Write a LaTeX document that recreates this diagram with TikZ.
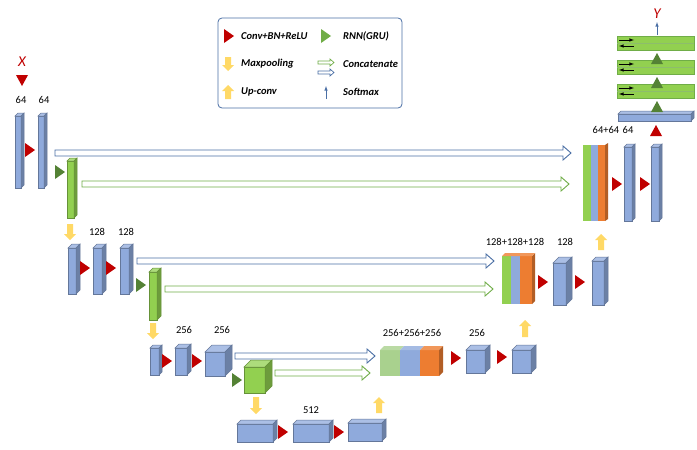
\documentclass[tikz,border=0pt]{standalone}
\usepackage{fontspec}
\setmainfont{Carlito}
\begin{document}
\begin{tikzpicture}[x=1pt,y=-1pt,font=\fontsize{10.5}{11}\selectfont,
 lbl/.style={inner sep=0pt,anchor=center}]
\definecolor{bfill}{HTML}{8FAADC}\definecolor{bdraw}{HTML}{4A6FA5}
\definecolor{gfill}{HTML}{92D050}\definecolor{gdraw}{HTML}{70AD47}
\definecolor{ofill}{HTML}{ED7D31}\definecolor{redt}{HTML}{C00000}
\definecolor{dgreen}{HTML}{548235}\definecolor{yel}{HTML}{FFD966}
\definecolor{lgreen}{HTML}{A9D18E}
\useasboundingbox (0,0) rectangle (697,450);
\fill[white] (0,0) rectangle (697,450);
\newcommand\cube[6]{%
 \fill[#6,draw=#6!70!black,line width=0.5pt] (#1,#2) rectangle ++(#3,#4);
 \fill[#6!75!white,draw=#6!70!black,line width=0.5pt] (#1,#2)--++(#5,-#5)--++(#3,0)--++(-#5,#5)--cycle;
 \fill[#6!75!black,draw=#6!70!black,line width=0.5pt] (#1+#3,#2)--++(#5,-#5)--++(0,#4)--++(-#5,#5)--cycle;}
\newcommand\rtri[3]{\fill[#3] (#1-5,#2-7)--(#1+5,#2)--(#1-5,#2+7)--cycle;}
\newcommand\utri[3]{\fill[#3] (#1-6,#2+5)--(#1,#2-6)--(#1+6,#2+5)--cycle;}
\newcommand\dtri[3]{\fill[#3] (#1-6,#2-5)--(#1,#2+6)--(#1+6,#2-5)--cycle;}
\newcommand\harrow[4]{\draw[#4,line width=0.9pt,fill=white] (#1,#3-3)--(#2-8,#3-3)--(#2-8,#3-7)--(#2,#3)--(#2-8,#3+7)--(#2-8,#3+3)--(#1,#3+3)--cycle;}
\newcommand\yup[3]{\fill[yel] (#1-3,#3)--(#1-3,#2+6)--(#1-6,#2+6)--(#1,#2)--(#1+6,#2+6)--(#1+3,#2+6)--(#1+3,#3)--cycle;}
\newcommand\ydown[3]{\fill[yel] (#1-3,#2)--(#1-3,#3-6)--(#1-6,#3-6)--(#1,#3)--(#1+6,#3-6)--(#1+3,#3-6)--(#1+3,#2)--cycle;}
% legend
\draw[bdraw,rounded corners=4pt,line width=0.8pt] (218,18) rectangle (402,108);
\rtri{229}{36}{redt} \node[lbl,anchor=west] (l1) at (241,36) {\textbf{\textit{Conv+BN+ReLU}}};
\rtri{326}{36}{gdraw} \node[lbl,anchor=west] (l2) at (343,36) {\textbf{\textit{RNN(GRU)}}};
\ydown{228}{57}{71} \node[lbl,anchor=west] (l3) at (241,64) {\textbf{\textit{Maxpooling}}};
\draw[gdraw,line width=0.7pt,fill=white] (318,61)--(330,61)--(330,59)--(334,62.5)--(330,66)--(330,64)--(318,64)--cycle;
\draw[bdraw,line width=0.7pt,fill=white] (318,71)--(330,71)--(330,69)--(334,72.5)--(330,76)--(330,74)--(318,74)--cycle;
\node[lbl,anchor=west] (l4) at (343,64) {\textbf{\textit{Concatenate}}};
\yup{228}{85}{99} \node[lbl,anchor=west] (l5) at (241,92) {\textbf{\textit{Up-conv}}};
\draw[-latex,bdraw,line width=0.6pt] (326,99)--(326,86);
\node[lbl,anchor=west] (l6) at (343,92) {\textbf{\textit{Softmax}}};
% input
\node[lbl,text=redt,font=\fontsize{15}{15}\selectfont\itshape] (X) at (22,62) {X};
\dtri{22}{80}{redt}
\node[lbl] at (21,100) {64}; \node[lbl] at (44,100) {64};
\cube{15}{116}{6}{72}{3}{bfill}
\rtri{30}{150}{redt}
\cube{38}{116}{6}{72}{3}{bfill}
\harrow{55}{571}{153}{bdraw}
\rtri{60}{172}{dgreen}
\cube{67}{161}{7}{57}{3}{gfill}
\harrow{82}{569}{184}{gdraw}
\ydown{70}{224}{240}
% stage 2
\node[lbl] at (97,232) {128}; \node[lbl] at (126,232) {128};
\cube{68}{248}{8}{46}{4}{bfill}
\rtri{85}{268}{redt}
\cube{93}{248}{9}{46}{4}{bfill}
\rtri{111}{268}{redt}
\cube{120}{248}{9}{46}{4}{bfill}
\harrow{137}{494}{261}{bdraw}
\rtri{141}{285}{dgreen}
\cube{149}{272}{8}{48}{4}{gfill}
\harrow{165}{493}{289}{gdraw}
\ydown{153}{323}{339}
% stage 3
\node[lbl] at (184,330) {256}; \node[lbl] at (222,330) {256};
\cube{150}{348}{9}{27}{3}{bfill}
\rtri{167}{361}{redt}
\cube{175}{348}{12}{27}{4}{bfill}
\rtri{197}{361}{redt}
\cube{205}{352}{20}{24}{7}{bfill}
\harrow{235}{375}{356}{bdraw}
\rtri{237}{380}{dgreen}
\cube{244}{367}{21}{26}{7}{gfill}
\harrow{275}{370}{373}{gdraw}
\ydown{256}{397}{414}
% bottom
\node[lbl] at (311,410) {512};
\cube{237}{424}{36}{18}{4}{bfill}
\rtri{283}{432}{redt}
\cube{293}{424}{36}{18}{4}{bfill}
\rtri{339}{432}{redt}
\cube{348}{423}{34}{18}{4}{bfill}
\yup{379}{397}{413}
% stage 3 right
\node[lbl] at (412,333) {256+256+256};
\fill[lgreen] (380,350) rectangle (400,376);
\fill[bfill] (400,350) rectangle (420,376);
\fill[ofill] (420,350) rectangle (439,376);
\fill[lgreen!80!white] (380,350)--(384,346)--(404,346)--(400,350)--cycle;
\fill[bfill!80!white] (400,350)--(404,346)--(424,346)--(420,350)--cycle;
\fill[ofill!80!white] (420,350)--(424,346)--(443,346)--(439,350)--cycle;
\fill[ofill!75!black] (439,350)--(443,346)--(443,372)--(439,376)--cycle;
\rtri{456}{358}{redt}
\node[lbl] at (477,333) {256};
\cube{466}{350}{19}{23}{5}{bfill}
\rtri{502}{357}{redt}
\cube{512}{350}{19}{23}{5}{bfill}
\yup{525}{320}{337}
% stage 2 right
\node[lbl] at (515,242) {128+128+128};
\fill[gfill] (502,256) rectangle (511,304);
\fill[bfill] (511,256) rectangle (520,304);
\fill[ofill] (520,256) rectangle (532,304);
\fill[ofill!75!black] (532,256)--(535,253)--(535,301)--(532,304)--cycle;
\fill[ofill!80!white] (502,256)--(505,253)--(535,253)--(532,256)--cycle;
\rtri{543}{282}{redt}
\node[lbl] at (565,242) {128};
\cube{553}{263}{13}{42}{6}{bfill}
\rtri{580}{282}{redt}
\cube{592}{261}{12}{44}{4}{bfill}
\yup{601}{234}{250}
% stage 1 right
\node[lbl] at (606,130) {64+64};
\fill[gfill] (583,145) rectangle (591,221);
\fill[bfill] (591,145) rectangle (598,221);
\fill[ofill] (598,145) rectangle (605,221);
\fill[ofill!75!black] (605,145)--(608,143)--(608,219)--(605,221)--cycle;
\rtri{617}{184}{redt}
\node[lbl] at (628,130) {64};
\cube{624}{147}{8}{74}{3}{bfill}
\rtri{645}{184}{redt}
\cube{651}{147}{8}{74}{3}{bfill}
\utri{656}{131}{redt}
\cube{618}{114}{73}{7}{3}{bfill}
\foreach \yy in {84,60,36}{
 \fill[gfill,draw=gdraw,line width=0.5pt] (617,\yy) rectangle (694,\yy+14);
 \draw[gdraw!80!white,line width=0.5pt] (617,\yy+7)--(694,\yy+7);
 \draw[-latex,black,line width=0.6pt] (619,\yy+4)--(634,\yy+4);
 \draw[latex-,black,line width=0.6pt] (619,\yy+10)--(634,\yy+10);
}
\utri{657}{107}{dgreen} \utri{657}{83}{dgreen} \utri{657}{59}{dgreen}
\draw[-latex,bdraw,line width=0.6pt] (657,35)--(657,22);
\node[lbl,text=redt,font=\fontsize{15}{15}\selectfont\itshape] (Y) at (657,14) {Y};
\end{tikzpicture}
\end{document}
